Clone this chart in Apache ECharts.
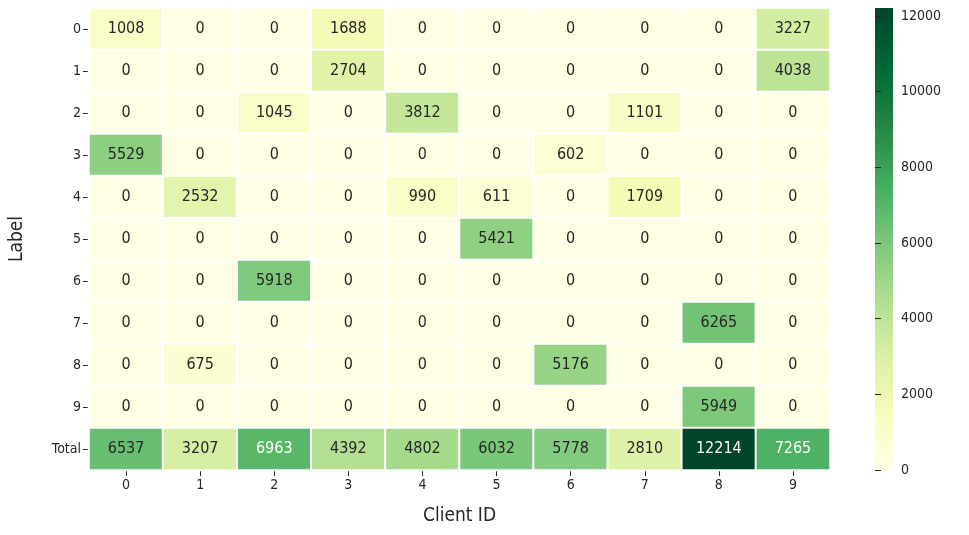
<!DOCTYPE html>
<html>
<head>
<meta charset="utf-8">
<script src="https://cdn.jsdelivr.net/npm/echarts@6/dist/echarts.min.js"></script>
<style>html,body{margin:0;background:#fff}#main{width:969px;height:535px}</style>
</head>
<body>
<div id="main"></div>
<script>
var clients = ['0', '1', '2', '3', '4', '5', '6', '7', '8', '9'];
var labels = ['0', '1', '2', '3', '4', '5', '6', '7', '8', '9', 'Total'];
var counts = [
  [1008, 0, 0, 1688, 0, 0, 0, 0, 0, 3227],
  [0, 0, 0, 2704, 0, 0, 0, 0, 0, 4038],
  [0, 0, 1045, 0, 3812, 0, 0, 1101, 0, 0],
  [5529, 0, 0, 0, 0, 0, 602, 0, 0, 0],
  [0, 2532, 0, 0, 990, 611, 0, 1709, 0, 0],
  [0, 0, 0, 0, 0, 5421, 0, 0, 0, 0],
  [0, 0, 5918, 0, 0, 0, 0, 0, 0, 0],
  [0, 0, 0, 0, 0, 0, 0, 0, 6265, 0],
  [0, 675, 0, 0, 0, 0, 5176, 0, 0, 0],
  [0, 0, 0, 0, 0, 0, 0, 0, 5949, 0],
  [6537, 3207, 6963, 4392, 4802, 6032, 5778, 2810, 12214, 7265]
];
var barTicks = [0, 2000, 4000, 6000, 8000, 10000, 12000];

var maxVal = 12214;
var colors = ['#ffffe5', '#f7fcb9', '#d9f0a3', '#addd8e', '#78c679', '#41ab5d', '#238443', '#006837', '#004529'];
var data = [];
counts.forEach(function (row, r) {
  row.forEach(function (v, c) {
    data.push({value: [c, r, v], label: {color: v >= 6900 ? '#ffffff' : '#262626'}});
  });
});

var font = '"DejaVu Sans Condensed", "DejaVu Sans", sans-serif';
var myChart = echarts.init(document.getElementById('main'));
myChart.setOption({
  textStyle: {fontFamily: font},
  grid: [
    {left: 87, top: 8, width: 743, height: 462},
    {left: 875, top: 8, width: 18, height: 462}
  ],
  graphic: [{
    type: 'rect', left: 875, top: 8, z: 0,
    shape: {width: 18, height: 462},
    style: {fill: new echarts.graphic.LinearGradient(0, 1, 0, 0,
      colors.map(function (c, i) { return {offset: i / (colors.length - 1), color: c}; }))}
  }],
  xAxis: [{
    type: 'category', data: clients, gridIndex: 0,
    name: 'Client ID', nameLocation: 'middle', nameGap: 37,
    nameTextStyle: {fontSize: 19, color: '#262626'},
    axisLine: {show: false}, splitArea: {show: false},
    axisTick: {show: true, alignWithLabel: true, length: 6, lineStyle: {color: '#262626'}},
    axisLabel: {fontSize: 14, color: '#262626', margin: 8}
  }, {
    type: 'value', gridIndex: 1, show: false
  }],
  yAxis: [{
    type: 'category', data: labels, gridIndex: 0, inverse: true,
    name: 'Label', nameLocation: 'middle', nameGap: 62, nameRotate: 90,
    nameTextStyle: {fontSize: 19, color: '#262626'},
    axisLine: {show: false},
    axisTick: {show: true, alignWithLabel: true, length: 6, lineStyle: {color: '#262626'}},
    axisLabel: {fontSize: 14, color: '#262626', margin: 8}
  }, {
    type: 'value', gridIndex: 1, position: 'right', min: 0, max: maxVal, interval: 2000,
    axisLine: {show: false}, splitLine: {show: false},
    axisTick: {show: true, length: 6, lineStyle: {color: '#262626'}},
    axisLabel: {fontSize: 14, color: '#262626', margin: 8, showMaxLabel: false,
      formatter: function (v) { return barTicks.indexOf(v) >= 0 ? String(v) : ''; }}
  }],
  visualMap: {
    type: 'continuous', min: 0, max: maxVal, show: false, seriesIndex: 0,
    inRange: {color: colors}
  },
  series: [{
    type: 'heatmap', xAxisIndex: 0, yAxisIndex: 0, data: data,
    itemStyle: {borderColor: '#ffffff', borderWidth: 2},
    label: {show: true, fontSize: 16, fontFamily: font},
    emphasis: {disabled: true}
  }]
});
</script>
</body>
</html>
